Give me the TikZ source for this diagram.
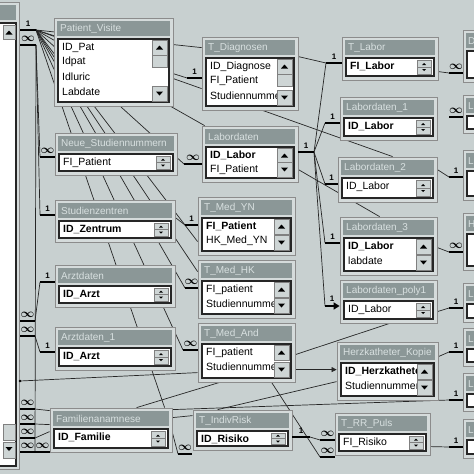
\documentclass[tikz,border=0pt]{standalone}
\usepackage{fontspec}
\setmainfont{Liberation Sans}
\usetikzlibrary{arrows.meta, calc, fit, backgrounds}

\definecolor{deskgray}{RGB}{200,208,208}
\definecolor{framegray}{RGB}{213,219,219}
\definecolor{titlegray}{RGB}{139,151,151}
\definecolor{titletext}{RGB}{216,224,224}
\definecolor{btngray}{RGB}{206,213,213}

\pgfdeclarelayer{lines}
\pgfsetlayers{background,lines,main}

% the "many" sign of a relationship end
\newcommand{\many}{{\fontsize{12}{12}\selectfont\boldmath$\infty$}}

% scroll parts: right x, top y, bottom y of a table
\newcommand{\tblspin}[3]{%
  \pgfmathsetmacro{\spinmid}{(#2+23+#3-6)/2}
  \draw[button] (#1-21,#2+23) rectangle (#1-7,#3-6);
  \draw[black!50, line width=0.5pt] (#1-21,\spinmid) -- (#1-7,\spinmid);
  \fill (#1-16,\spinmid-2) -- (#1-12,\spinmid-2) -- (#1-14,\spinmid-4) -- cycle;
  \fill (#1-16,\spinmid+2) -- (#1-12,\spinmid+2) -- (#1-14,\spinmid+4) -- cycle;
}
\newcommand{\tblbar}[3]{%
  \draw[button] (#1-21,#2+22) rectangle (#1-6,#2+37);
  \fill (#1-17,#2+31.5) -- (#1-10,#2+31.5) -- (#1-13.5,#2+27.5) -- cycle;
  \draw[button] (#1-21,#3-20) rectangle (#1-6,#3-5);
  \fill (#1-17,#3-14.5) -- (#1-10,#3-14.5) -- (#1-13.5,#3-10.5) -- cycle;
}
\newcommand{\tblthumb}[3]{%
  \tblbar{#1}{#2}{#3}%
  \draw[button] (#1-21,#2+37) rectangle (#1-6,#2+49);
}

% one table window: name, top left, bottom right, title, rows, scroll kind
\newcommand{\acctable}[8]{%
  \node[tblframe, fit={(#2,#3) (#4,#5)}] (#1) {};
  \fill[titlegray] (#2+3,#3+3) rectangle (#4-3,#3+18);
  \node[tbltitle] (#1-title) at (#2+6,#3+11) {#6};
  \draw[listbox] (#2+4,#3+21) rectangle (#4-4,#5-4);
  \foreach \row [count=\i from 0] in {#7}
    \node[tblrow] (#1-row\i) at (#2+8,#3+29.5+14.7*\i) {\row};
  \csname tbl#8\endcsname{#4}{#3}{#5}%
}

% table cut by the right margin: name, top y, bottom y, title letter
\newcommand{\edgetable}[4]{%
  \node[tblframe, fit={(463,#2) (520,#3)}] (#1) {};
  \fill[titlegray] (466,#2+3) rectangle (517,#2+18);
  \node[tbltitle] (#1-title) at (468,#2+11) {#4};
  \draw[listbox] (467,#2+21) rectangle (516,#3-4);
}

% relationship end: name, west x, east x, y, label
\newcommand{\card}[5]{%
  \draw[cardbar] (#2,#4) -- (#3,#4);
  \node[cardlabel] (#1) at ({(#2+#3)/2},#4-6) {#5};
  \coordinate (#1-w) at (#2,#4);
  \coordinate (#1-e) at (#3,#4);
}

\begin{document}
\begin{tikzpicture}[
  x=1pt, y=-1pt,
  tblframe/.style={draw=black!45, fill=framegray, line width=0.8pt, inner sep=0pt},
  tbltitle/.style={anchor=west, inner sep=0pt, text=titletext, font=\fontsize{10}{12}\selectfont},
  tblrow/.style={anchor=west, inner sep=0pt, font=\fontsize{10.5}{12}\selectfont},
  listbox/.style={fill=white, draw=black!85, line width=1.2pt},
  button/.style={fill=btngray, draw=black!50, line width=0.5pt},
  rel/.style={black!85, line width=0.7pt},
  cardbar/.style={line width=2.4pt},
  cardlabel/.style={inner sep=0pt, font=\bfseries\fontsize{8}{9}\selectfont}
]
\useasboundingbox (0,0) rectangle (474,474);
\begin{pgfonlayer}{background}
  \fill[deskgray] (0,0) rectangle (474,474);
\end{pgfonlayer}

% left window, cut by the margin
\node[tblframe, fit={(-6,2) (19,469)}] (lwin) {};
\fill[titlegray] (-6,5) rectangle (16,20);
\draw[listbox] (-6,23) rectangle (16,466);
\draw[button] (3,25) rectangle (15,39);
\fill (5.5,34.5) -- (12.5,34.5) -- (9,30.5) -- cycle;
\draw[button] (3,424) rectangle (15,440);
\draw[button] (3,442) rectangle (15,458);
\fill (5.5,447) -- (12.5,447) -- (9,451) -- cycle;

% tables
\acctable{pv}{54}{18}{173}{106}{Patient\_Visite}{ID\_Pat, Idpat, Idluric, Labdate}{thumb}
\acctable{diag}{202}{37}{298}{110}{T\_Diagnosen}{ID\_Diagnose, FI\_Patient, Studiennumme}{thumb}
\acctable{tlab}{342}{37}{438}{80}{T\_Labor}{\textbf{FI\_Labor}}{spin}
\acctable{ldone}{340}{97}{437}{140}{Labordaten\_1}{\textbf{ID\_Labor}}{spin}
\acctable{ld}{202}{126}{298}{182}{Labordaten}{\textbf{ID\_Labor}, FI\_Patient}{bar}
\acctable{ldtwo}{338}{157}{437}{202}{Labordaten\_2}{ID\_Labor}{spin}
\acctable{ldthree}{340}{217}{437}{275}{Labordaten\_3}{\textbf{ID\_Labor}, labdate}{bar}
\acctable{ldpoly}{340}{280}{437}{323}{Labordaten\_poly1}{ID\_Labor}{spin}
\acctable{hkk}{337}{342}{438}{400}{Herzkatheter\_Kopie}{\textbf{ID\_Herzkatheter}, Studiennummer}{bar}
\acctable{rr}{335}{413}{430}{455}{T\_RR\_Puls}{FI\_Risiko}{spin}
\acctable{irisk}{193}{410}{292}{450}{T\_IndivRisk}{\textbf{ID\_Risiko}}{spin}
\acctable{neue}{55}{133}{177}{175}{Neue\_Studiennummern}{FI\_Patient}{spin}
\acctable{zentren}{55}{200}{175}{242}{Studienzentren}{\textbf{ID\_Zentrum}}{spin}
\acctable{arzt}{55}{265}{175}{307}{Arztdaten}{\textbf{ID\_Arzt}}{spin}
\acctable{arztone}{55}{327}{175}{370}{Arztdaten\_1}{\textbf{ID\_Arzt}}{spin}
\acctable{fam}{50}{408}{172}{452}{Familienanamnese}{\textbf{ID\_Familie}}{spin}
\acctable{medyn}{198}{197}{295}{255}{T\_Med\_YN}{\textbf{FI\_Patient}, HK\_Med\_YN}{bar}
\acctable{medhk}{198}{260}{295}{318}{T\_Med\_HK}{FI\_patient, Studiennummer}{bar}
\acctable{medand}{198}{323}{295}{382}{T\_Med\_And}{FI\_patient, Studiennummer}{bar}

% tables cut by the right margin
\edgetable{rone}{30}{82}{D}
\edgetable{rtwo}{95}{133}{L}
\edgetable{rthree}{150}{200}{L}
\edgetable{rfour}{213}{270}{H}
\edgetable{rfive}{283}{322}{L}
\edgetable{rsix}{328}{366}{L}
\edgetable{rseven}{373}{411}{L}
\edgetable{reight}{419}{458}{L}

% relationship ends
\card{lwone}{20}{36}{30}{1}
\card{lwmany}{20}{36}{45}{\many}
\card{lwa}{20}{35}{321}{\many}
\card{lwb}{20}{35}{336}{\many}
\card{lwc}{20}{35}{409}{\many}
\card{lwd}{20}{35}{424}{\many}
\card{lwe}{20}{35}{438}{\many}
\card{lwf}{20}{35}{452}{\many}
\coordinate (lwdot) at (20,381);
\fill (lwdot) circle (1.3);
\card{neuen}{40}{55}{157}{\many}
\card{zentrenn}{40}{55}{215}{1}
\card{arztn}{40}{55}{282}{1}
\card{arztonen}{40}{55}{352}{1}
\card{famn}{35}{50}{452}{\many}
\card{diagn}{187}{202}{78}{1}
\card{ldn}{184}{202}{164}{\many}
\card{lde}{298}{314}{152}{1}
\card{tlabn}{326}{342}{63}{1}
\card{ldonen}{325}{340}{123}{1}
\card{ldtwon}{325}{338}{184}{1}
\card{ldthreen}{325}{340}{243}{1}
\card{medynn}{185}{198}{225}{1}
\card{medhkn}{185}{198}{288}{\many}
\card{medandn}{183}{198}{350}{\many}
\card{iriske}{292}{310}{437}{1}
\card{iriskn}{178}{192}{454}{\many}
\card{rrna}{320}{335}{440}{\many}
\card{rrnb}{320}{335}{457}{\many}
\card{ronen}{449}{463}{73}{\many}
\card{rtwon}{449}{463}{117}{\many}
\card{rthreen}{449}{463}{177}{1}
\card{rfourn}{449}{463}{252}{\many}
\card{rfiven}{449}{463}{308}{1}
\card{rsixn}{449}{463}{352}{1}
\card{rsevenn}{449}{463}{400}{1}
\card{reightn}{449}{463}{447}{1}
\coordinate (ldpolyarr) at (325,306);
\draw[cardbar, -{Triangle[length=6pt, width=7pt]}] (ldpolyarr) -- (ldpoly.west |- ldpolyarr);
\node[cardlabel] (ldpolyn) at (332,299) {1};

% end points on table edges
\coordinate (diagtop) at ($(diag.north west)+(0,11)$);
\coordinate (diaglow) at ($(diag.north west)+(0,52)$);
\coordinate (ldtop) at ($(ld.north west)+(3,0)$);
\coordinate (medynleft) at ($(medyn.north west)+(0,45)$);
\coordinate (medhktop) at ($(medhk.north west)+(0,12)$);
\coordinate (famtop) at ($(fam.north west)+(115,0)$);

% relationships, behind the tables
\begin{pgfonlayer}{lines}
\foreach \dest in {diagtop, diagn-w, diaglow, ldtop, ldn-w, medynleft, medhktop, medhkn-w, medandn-w, famtop}
  \draw[rel] (lwone-e) -- (\dest);
\draw[rel] (lwmany-e) -- (neuen-w);
\draw[rel] (lwmany-e) -- (zentrenn-w);
\draw[rel] (lwmany-e) -- (famn-w);
\draw[rel] (lwa-e) -- (arztn-w);
\draw[rel] (lwb-e) -- (arztonen-w);
\draw[rel] (lwc-e) -- ($(fam.north west)+(0,3)$);
\draw[rel] (lwd-e) -- ($(fam.north west)+(0,17)$);
\draw[rel] (lwe-e) -- ($(fam.north west)+(0,24)$);
\draw[rel] (lwdot) -- ($(medand.north west)+(0,50)$);

\draw[rel] ($(diag.north east)+(0,20)$) -- (tlabn-w);
\foreach \dest in {tlabn-w, ldonen-w, ldtwon-w, ldthreen-w, ldpolyarr}
  \draw[rel] (lde-e) -- (\dest);
\draw[rel] ($(diag.south west)+(61,0)$) -- ($(ldtwo.north west)+(55,0)$);
\draw[rel] ($(ld.north east)+(0,44)$) -- ($(ldthree.north west)+(40,0)$);
\draw[rel] ($(zentren.north east)+(0,18)$) -- (medynn-w);

\draw[rel, -{Triangle[length=5pt, width=5pt]}] ($(medand.north east)+(0,47)$) -- ($(hkk.north west)+(0,28)$);
\draw[rel] ($(medand.north east)+(0,32)$) -- ($(ldpoly.south west)+(50,0)$);
\draw[rel] ($(medand.south west)+(74,0)$) -- (rrnb-w);
\draw[rel] (iriske-e) -- (rrna-w);
\draw[rel] ($(fam.north east)+(0,25)$) -- (iriskn-w);
\draw[rel] ($(fam.north east)+(0,10)$) -- ($(irisk.north west)+(0,6)$);
\draw[rel] ($(fam.north west)+(87,0)$) -- ($(medand.south west)+(22,0)$);
\draw[rel] ($(irisk.north west)+(25,0)$) -- ($(hkk.north west)+(0,40)$);
\draw[rel] ($(fam.north east)+(0,2)$) -- (rsevenn-w);

\draw[rel] ($(tlab.north east)+(0,35)$) -- (ronen-w);
\draw[rel] ($(ldtwo.north east)+(0,13)$) -- (rthreen-w);
\draw[rel] ($(ldthree.north east)+(0,31)$) -- (rfourn-w);
\draw[rel] ($(ldpoly.north east)+(0,32)$) -- (rfiven-w);
\draw[rel] ($(hkk.north east)+(0,15)$) -- (rsixn-w);
\draw[rel] ($(rr.north east)+(0,34)$) -- (reightn-w);
\end{pgfonlayer}
\end{tikzpicture}
\end{document}
